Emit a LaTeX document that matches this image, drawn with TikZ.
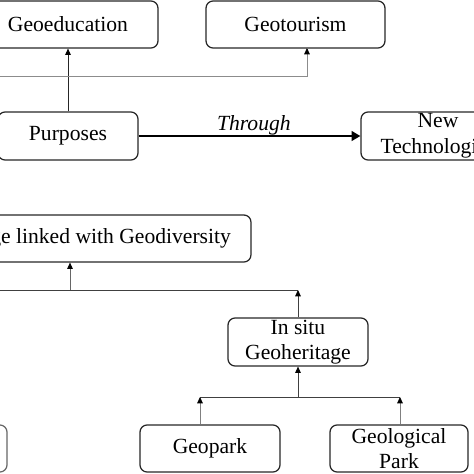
\documentclass[tikz,border=0pt]{standalone}
\usepackage{fontspec}
\setmainfont{Liberation Serif}
\usetikzlibrary{arrows.meta, positioning}

\tikzset{
  box/.style={draw=black!85, line width=0.7pt, rounded corners=4pt, align=center,
    minimum height=0.94cm, inner sep=1pt, font=\fontsize{12.3}{14}\selectfont},
  link/.style={draw=black!75, line width=0.5pt, -{Triangle[length=3.6pt, width=3.2pt, black]}},
  plain/.style={draw=black!75, line width=0.5pt},
  faint/.style={draw=black!45, line width=0.5pt}
}

\begin{document}
\begin{tikzpicture}[x=0.02cm, y=-0.02cm]
        % Frame (the reference is a crop of a larger chart)
        \useasboundingbox (0,0) rectangle (474,474);
        \clip (0,0) rectangle (474,474);

        % 1. Top row
        \node[box, minimum width=3.6cm] (geoedu) at (68, 24.5) {Geoeducation};
        \node[box, minimum width=3.58cm] (geotour) at (295.5, 24.5) {Geotourism};

        % 2. Purposes and new technologies
        \node[box, minimum width=2.8cm, minimum height=0.96cm] (purposes) at (68, 136) {Purposes};
        \node[box, minimum width=3.08cm, minimum height=0.96cm, font=\fontsize{12.3}{14.6}\selectfont] (newtech) at (438, 136) {New\\Technologies};

        % 3. Geoheritage
        \node[box, minimum width=7.32cm] (geoher) at (68, 238.5) {Geoheritage linked with Geodiversity};
        \node[box, minimum width=2.8cm, minimum height=0.96cm] (insitu) at (298, 342) {In situ\\Geoheritage};

        % 4. Bottom row
        \node[box, minimum width=2.8cm, draw=black!60] (leftbox) at (-63, 448.5) {};
        \node[box, minimum width=2.8cm] (geopark) at (210, 448.5) {Geopark};
        \node[box, minimum width=2.76cm] (geolpark) at (399, 448.5) {Geological\\Park};

        % Junction points
        \coordinate (tourL) at (-40, 76);
        \coordinate (tourIn) at (307, 48);
        \coordinate (herL) at (-40, 290);
        \coordinate (herJoin) at (70, 290);
        \coordinate (insituUp) at (298, 290);
        \coordinate (parkJoin) at (298, 397);
        \coordinate (parkL) at (200, 397);
        \coordinate (parkR) at (400, 397);

        % 5. Connectors
        \draw[link, draw=black!85] (purposes) -- (geoedu);
        \draw[faint] (tourL) -| (tourIn);
        \draw[link, draw=black!45] (tourL -| tourIn) -- (tourIn);
        \draw[draw=black, line width=1.7pt, -{Triangle[length=5pt, width=5.5pt]}] (purposes) -- (newtech)
            node[midway, above=-3.5pt, font=\fontsize{12.3}{14}\selectfont\itshape, xshift=2.5pt] {Through};
        \draw[link, draw=black!60] (herJoin) -- (herJoin |- geoher.south);
        \draw[plain] (herL) -- (insituUp);
        \draw[link] (insitu) -- (insituUp);
        \draw[link] (parkJoin) -- (insitu);
        \draw[plain] (parkL) -- (parkR);
        \draw[link, draw=black!50] (parkL |- geopark.north) -- (parkL);
        \draw[link, draw=black!50] (parkR |- geolpark.north) -- (parkR);
\end{tikzpicture}
\end{document}
